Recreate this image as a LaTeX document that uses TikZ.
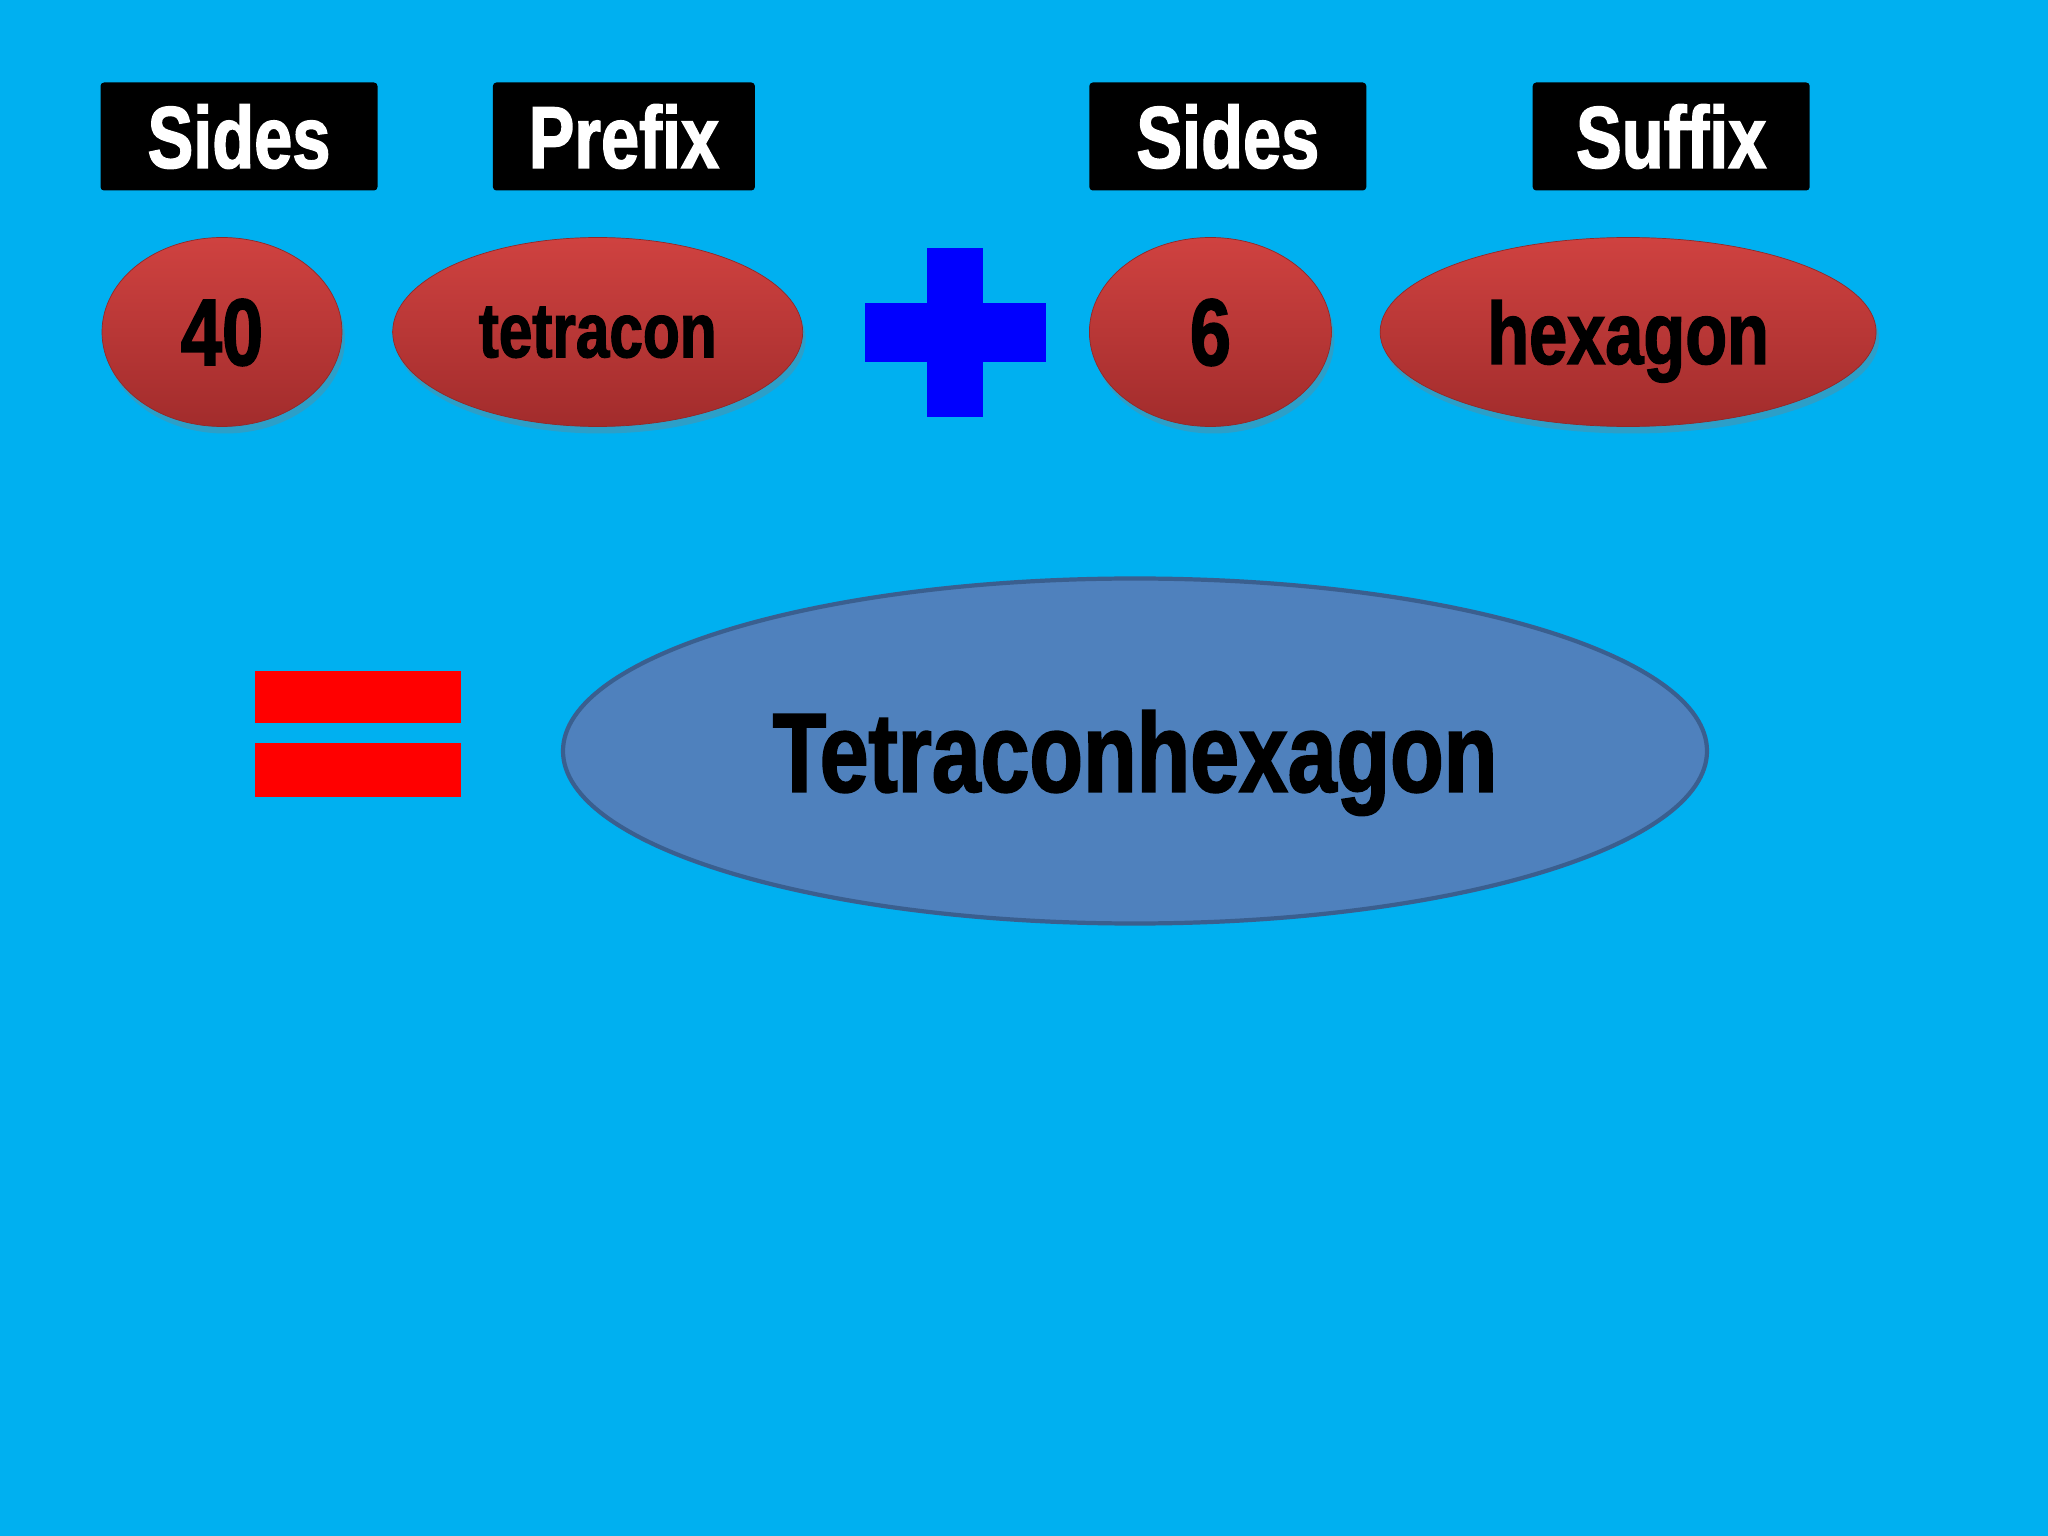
\documentclass[tikz,border=0pt]{standalone}
\usepackage{xcolor}
\usepackage{fontspec}
\newfontfamily\impact{Liberation Sans}[FakeStretch=0.78,FakeBold=1.6]
\usepackage{tikz}
\usetikzlibrary{positioning, shapes.geometric, shadows}

\definecolor{sky}{HTML}{00B0F0}
\definecolor{redtop}{HTML}{CF4240}
\definecolor{redbot}{HTML}{A22C2C}
\definecolor{resfill}{HTML}{4F81BD}
\definecolor{resedge}{HTML}{3A5F8F}

\begin{document}
\begin{tikzpicture}[
    tag/.style={
        rectangle,
        rounded corners=1pt,
        fill=black,
        text=white,
        minimum width=2.77cm,
        minimum height=1.08cm,
        inner sep=0pt,
        font=\impact\bfseries\fontsize{25}{25}\selectfont
    },
    blob/.style={
        ellipse,
        inner sep=0pt,
        text depth=0pt,
        top color=redtop,
        bottom color=redbot,
        draw=redbot!90!black,
        very thin,
        drop shadow={opacity=0.35, shadow xshift=0.03cm, shadow yshift=-0.07cm},
        minimum height=1.89cm
    }
]

% background
\fill[sky] (0,0) rectangle (20.48,-15.36);

% headings
\node[tag] (sidesa) at (2.39,-1.365) {Sides};
\node[tag, minimum width=2.62cm, right=1.14cm of sidesa] (prefix) {Prefix};
\node[tag, right=3.33cm of prefix] (sidesb) {Sides};
\node[tag, right=1.65cm of sidesb] (suffix) {Suffix};

% parts
\node[blob, minimum width=2.40cm, font=\impact\bfseries\fontsize{27}{27}\selectfont] (forty) at (2.22,-3.32) {40};
\node[blob, minimum width=4.10cm, right=0.5cm of forty, font=\impact\bfseries\fontsize{22}{22}\selectfont] (tetracon) {tetracon};
\node[blob, minimum width=2.42cm, right=2.86cm of tetracon, font=\impact\bfseries\fontsize{27}{27}\selectfont] (six) {6};
\node[blob, minimum width=4.96cm, right=0.48cm of six, font=\impact\bfseries\fontsize{25}{25}\selectfont] (hexagon) {hexagon};

% plus sign
\fill[blue] (9.27,-2.48) rectangle (9.83,-4.17);
\fill[blue] (8.646,-3.03) rectangle (10.46,-3.62);

% equals sign
\fill[red] (2.547,-6.713) rectangle (4.61,-7.235);
\fill[red] (2.547,-7.431) rectangle (4.61,-7.967);

% result
\node[ellipse, fill=resfill, draw=resedge, line width=1.2pt, inner sep=0pt, text depth=0pt,
      minimum width=11.44cm, minimum height=3.45cm,
      font=\impact\bfseries\fontsize{32}{32}\selectfont] (result) at (11.35,-7.51) {Tetraconhexagon};

\end{tikzpicture}
\end{document}
